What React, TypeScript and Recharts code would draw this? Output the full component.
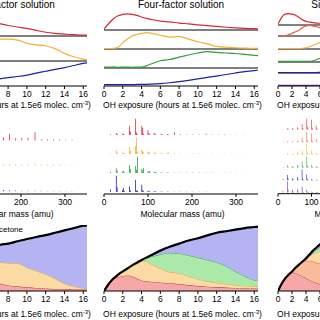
import React from 'react';
import { Area, Bar, BarChart, ComposedChart, Line, LineChart, ReferenceLine, XAxis, YAxis } from 'recharts';

const FONT = '"Liberation Sans", Arial, Helvetica, sans-serif';

// OH exposure grid (hours at 1.5e6 molec cm-3)
const hours = [0, 0.5, 1, 1.5, 2, 2.5, 3, 3.5, 4, 4.5, 5, 6, 7, 8, 9, 10, 11, 12, 13, 14, 15, 16, 16.4];
const hours6 = [0, 0.5, 1, 1.5, 2, 2.5, 3, 3.5, 4, 4.5, 5, 5.5, 6, 7, 8, 10, 12, 14, 16, 18, 20, 22];
const hourTicks = [0, 2, 4, 6, 8, 10, 12, 14, 16];
const hourTicks6 = [0, 2, 4, 6, 8, 10, 12, 14, 16, 18, 20, 22];

// factor time series (normalised)
const red3 = [0.05, 0.35, 0.62, 0.8, 0.9, 0.95, 0.95, 0.92, 0.88, 0.83, 0.78, 0.68, 0.58, 0.48, 0.41, 0.35, 0.26, 0.17, 0.12, 0.09, 0.06, 0.04, 0.04];
const orange3 = [0.02, 0.02, 0.05, 0.15, 0.35, 0.5, 0.65, 0.75, 0.82, 0.86, 0.88, 0.9, 0.92, 0.92, 0.88, 0.74, 0.68, 0.64, 0.52, 0.32, 0.18, 0.08, 0.06];
const blue3 = [0.04, 0.04, 0.04, 0.05, 0.05, 0.06, 0.07, 0.08, 0.1, 0.12, 0.15, 0.22, 0.29, 0.35, 0.4, 0.46, 0.54, 0.62, 0.7, 0.77, 0.86, 0.95, 0.97];

const red4 = [0.05, 0.4, 0.7, 0.88, 0.97, 1.0, 0.97, 0.9, 0.8, 0.72, 0.66, 0.55, 0.5, 0.43, 0.38, 0.32, 0.27, 0.22, 0.17, 0.13, 0.1, 0.08, 0.07];
const orange4 = [0.02, 0.02, 0.03, 0.1, 0.35, 0.55, 0.72, 0.8, 0.86, 0.9, 0.88, 0.76, 0.66, 0.68, 0.55, 0.4, 0.28, 0.15, 0.1, 0.07, 0.05, 0.04, 0.04];
const green4 = [0.05, 0.05, 0.06, 0.04, 0.05, 0.05, 0.04, 0.05, 0.05, 0.12, 0.22, 0.4, 0.47, 0.6, 0.72, 0.83, 0.9, 0.86, 0.83, 0.8, 0.75, 0.7, 0.68];
const blue4 = [0.08, 0.08, 0.08, 0.08, 0.08, 0.08, 0.08, 0.09, 0.1, 0.1, 0.11, 0.14, 0.19, 0.25, 0.33, 0.42, 0.5, 0.58, 0.67, 0.76, 0.84, 0.9, 0.92];

const red6 = [0.08, 0.65, 0.95, 1.0, 0.95, 0.85, 0.65, 0.45, 0.32, 0.25, 0.2, 0.17, 0.15, 0.12, 0.1, 0.08, 0.07, 0.06, 0.05, 0.05, 0.05, 0.05];
const dkorange6 = [0.03, 0.03, 0.05, 0.12, 0.25, 0.4, 0.55, 0.8, 0.95, 1.0, 0.95, 0.88, 0.8, 0.6, 0.45, 0.3, 0.2, 0.15, 0.12, 0.1, 0.08, 0.08];
const yellow6 = [0.04, 0.04, 0.04, 0.04, 0.04, 0.04, 0.04, 0.06, 0.1, 0.18, 0.3, 0.4, 0.5, 0.7, 0.85, 0.9, 0.75, 0.55, 0.4, 0.3, 0.25, 0.2];
const green6 = [0.05, 0.05, 0.05, 0.05, 0.05, 0.05, 0.05, 0.05, 0.05, 0.05, 0.1, 0.2, 0.3, 0.5, 0.7, 0.95, 0.9, 0.75, 0.6, 0.5, 0.4, 0.35];
const blue6 = [0.05, 0.05, 0.05, 0.05, 0.05, 0.05, 0.05, 0.05, 0.05, 0.05, 0.05, 0.05, 0.06, 0.08, 0.12, 0.3, 0.55, 0.8, 0.95, 0.9, 0.8, 0.7];
const purple6 = [0.05, 0.05, 0.05, 0.05, 0.05, 0.05, 0.05, 0.05, 0.05, 0.05, 0.05, 0.05, 0.05, 0.05, 0.06, 0.1, 0.2, 0.35, 0.55, 0.75, 0.9, 1.0];

// factor mass spectra (normalised sticks)
const masses = [15, 28, 30, 42, 44, 46, 58, 60, 72, 74, 76, 86, 88, 90, 100, 102, 104, 114, 116, 118, 130, 132, 144, 146, 160, 174, 188, 202, 216, 232, 246, 260, 274, 288, 302, 316];
const massTicks = [0, 100, 200, 300];
const massTicks6 = [0, 100, 200, 300, 400];

const specRed3 = [0.05, 0.12, 0.06, 0.05, 0.1, 0.04, 0.5, 0.2, 0.9, 0.15, 0.05, 0.6, 0.4, 0.08, 0.35, 0.12, 0.05, 0.15, 0.08, 0.04, 0.1, 0.05, 0.08, 0.04, 0.15, 0.3, 0.1, 0.12, 0.12, 0.38, 0.06, 0.05, 0.04, 0.04, 0.03, 0.03];
const specOrange3 = [0.05, 0.2, 0.1, 0.06, 0.1, 0.05, 0.45, 0.2, 0.55, 0.9, 0.15, 0.3, 0.2, 0.1, 0.12, 0.15, 0.08, 0.08, 0.1, 0.05, 0.06, 0.05, 0.05, 0.1, 0.06, 0.05, 0.05, 0.05, 0.05, 0.05, 0.04, 0.04, 0.04, 0.04, 0.03, 0.02];
const specBlue3 = [0.15, 1.0, 0.3, 0.12, 0.25, 0.08, 0.35, 0.1, 0.75, 0.1, 0.08, 0.45, 0.12, 0.05, 0.08, 0.05, 0.04, 0.05, 0.04, 0.03, 0.04, 0.03, 0.04, 0.03, 0.06, 0.05, 0.04, 0.03, 0.03, 0.03, 0.03, 0.02, 0.02, 0.02, 0.02, 0.02];

const specRed4 = [0.05, 0.12, 0.06, 0.05, 0.1, 0.04, 0.55, 0.2, 1.0, 0.15, 0.05, 0.55, 0.45, 0.08, 0.3, 0.12, 0.05, 0.12, 0.08, 0.04, 0.08, 0.05, 0.06, 0.04, 0.18, 0.05, 0.04, 0.04, 0.04, 0.08, 0.03, 0.03, 0.03, 0.02, 0.02, 0.02];
const specOrange4 = [0.05, 0.22, 0.1, 0.06, 0.1, 0.05, 0.45, 0.2, 0.5, 1.0, 0.15, 0.25, 0.2, 0.1, 0.12, 0.15, 0.08, 0.08, 0.1, 0.05, 0.06, 0.05, 0.05, 0.12, 0.05, 0.04, 0.04, 0.04, 0.03, 0.04, 0.03, 0.03, 0.03, 0.02, 0.02, 0.02];
const specGreen4 = [0.08, 0.3, 0.15, 0.08, 0.15, 0.05, 0.5, 0.25, 0.45, 0.2, 1.0, 0.25, 0.15, 0.3, 0.1, 0.1, 0.12, 0.08, 0.06, 0.06, 0.05, 0.04, 0.04, 0.04, 0.04, 0.03, 0.03, 0.03, 0.03, 0.03, 0.03, 0.02, 0.02, 0.02, 0.02, 0.02];
const specBlue4 = [0.15, 1.0, 0.3, 0.12, 0.25, 0.08, 0.35, 0.1, 0.75, 0.1, 0.08, 0.45, 0.12, 0.05, 0.08, 0.05, 0.04, 0.05, 0.04, 0.03, 0.03, 0.02, 0.02, 0.02, 0.02, 0.02, 0.02, 0.02, 0.02, 0.02, 0.01, 0.01, 0.01, 0.01, 0.01, 0.01];

const specRed6 = [0.04, 0.1, 0.08, 0.04, 0.12, 0.03, 0.2, 0.08, 0.5, 0.1, 0.05, 1.0, 0.25, 0.05, 0.9, 0.15, 0.05, 0.35, 0.1, 0.04, 0.15, 0.05, 0.1, 0.04, 0.08, 0.04, 0.04, 0.04, 0.04, 0.04, 0.03, 0.03, 0.03, 0.03, 0.03, 0.03];
const specDkorange6 = [0.04, 0.1, 0.06, 0.04, 0.1, 0.03, 0.15, 0.08, 0.45, 0.1, 0.05, 1.0, 0.2, 0.05, 0.85, 0.12, 0.04, 0.3, 0.08, 0.03, 0.12, 0.04, 0.08, 0.03, 0.06, 0.03, 0.03, 0.03, 0.03, 0.03, 0.03, 0.03, 0.03, 0.03, 0.03, 0.03];
const specYellow6 = [0.04, 0.12, 0.06, 0.04, 0.1, 0.03, 0.2, 0.08, 0.3, 0.1, 0.06, 1.0, 0.15, 0.05, 0.35, 0.1, 0.04, 0.15, 0.05, 0.03, 0.08, 0.03, 0.05, 0.03, 0.04, 0.03, 0.03, 0.03, 0.03, 0.03, 0.03, 0.03, 0.03, 0.03, 0.03, 0.03];
const specGreen6 = [0.05, 0.2, 0.1, 0.05, 0.12, 0.04, 0.25, 0.1, 0.55, 0.12, 0.06, 1.0, 0.15, 0.05, 0.2, 0.08, 0.04, 0.1, 0.05, 0.03, 0.05, 0.03, 0.04, 0.03, 0.03, 0.03, 0.03, 0.03, 0.03, 0.03, 0.03, 0.03, 0.03, 0.03, 0.03, 0.03];
const specBlue6 = [0.1, 0.5, 0.2, 0.08, 0.2, 0.05, 0.3, 0.1, 1.0, 0.12, 0.05, 0.55, 0.1, 0.04, 0.1, 0.05, 0.03, 0.05, 0.03, 0.03, 0.03, 0.03, 0.03, 0.03, 0.03, 0.03, 0.03, 0.03, 0.03, 0.03, 0.03, 0.03, 0.03, 0.03, 0.03, 0.03];
const specPurple6 = [0.15, 1.0, 0.3, 0.1, 0.25, 0.05, 0.3, 0.1, 0.55, 0.08, 0.04, 0.25, 0.06, 0.03, 0.08, 0.04, 0.03, 0.04, 0.03, 0.03, 0.03, 0.03, 0.03, 0.03, 0.03, 0.03, 0.03, 0.03, 0.03, 0.03, 0.03, 0.03, 0.03, 0.03, 0.03, 0.03];

// factor contributions to SOA (stacked), arbitrary units
const red3a = [0, 0.45, 0.75, 0.9, 0.97, 1.0, 0.95, 0.85, 0.78, 0.72, 0.68, 0.6, 0.5, 0.36, 0.3, 0.24, 0.2, 0.16, 0.13, 0.11, 0.1, 0.09, 0.09];
const orange3a = [0, 0, 0.05, 0.15, 0.29, 0.45, 0.65, 0.85, 0.98, 1.08, 1.14, 1.24, 1.35, 1.44, 1.48, 1.26, 1.1, 0.92, 0.67, 0.37, 0.2, 0.09, 0.07];
const blue3a = [0, 0, 0, 0, 0, 0, 0.05, 0.12, 0.24, 0.35, 0.48, 0.76, 1.1, 1.25, 1.42, 1.85, 2.18, 2.52, 2.95, 3.42, 3.75, 4.02, 4.06];

const red4a = [0, 0.45, 0.75, 0.9, 0.97, 1.0, 0.95, 0.8, 0.68, 0.62, 0.6, 0.55, 0.5, 0.45, 0.38, 0.32, 0.28, 0.25, 0.22, 0.2, 0.18, 0.16, 0.15];
const orange4a = [0, 0, 0.05, 0.15, 0.29, 0.45, 0.7, 1.02, 1.27, 1.26, 1.15, 0.9, 0.72, 0.7, 0.57, 0.46, 0.34, 0.27, 0.23, 0.18, 0.15, 0.14, 0.14];
const green4a = [0, 0, 0, 0, 0, 0, 0, 0, 0.05, 0.22, 0.45, 0.9, 1.23, 1.27, 1.35, 1.37, 1.38, 1.33, 1.15, 0.87, 0.62, 0.4, 0.36];
const blue4a = [0, 0, 0, 0, 0, 0, 0, 0, 0, 0.05, 0.1, 0.25, 0.4, 0.63, 0.95, 1.25, 1.58, 1.9, 2.25, 2.7, 3.1, 3.42, 3.5];

const red6a = [0, 0.45, 0.8, 1.05, 1.2, 1.15, 1.05, 0.95, 0.82, 0.7, 0.6, 0.52, 0.45, 0.35, 0.3, 0.2, 0.16, 0.12, 0.1, 0.09, 0.08, 0.08];
const dkorange6a = [0, 0, 0, 0, 0.05, 0.35, 0.65, 0.9, 1.13, 1.25, 1.3, 1.3, 1.3, 1.15, 1.0, 0.7, 0.44, 0.28, 0.2, 0.16, 0.14, 0.12];
const yellow6a = [0, 0, 0, 0, 0, 0, 0, 0, 0.1, 0.3, 0.5, 0.65, 0.8, 1.1, 1.2, 1.1, 0.8, 0.55, 0.4, 0.32, 0.28, 0.25];
const green6a = [0, 0, 0, 0, 0, 0, 0, 0, 0, 0, 0.1, 0.2, 0.3, 0.5, 0.7, 1.1, 1.3, 1.15, 0.85, 0.6, 0.45, 0.4];
const blue6a = [0, 0, 0, 0, 0, 0, 0, 0, 0, 0, 0, 0, 0, 0.1, 0.15, 0.4, 0.75, 1.1, 1.25, 1.25, 1.2, 1.1];
const purple6a = [0, 0, 0, 0, 0, 0, 0, 0.05, 0.05, 0.1, 0.1, 0.13, 0.15, 0.1, 0.15, 0.3, 0.55, 0.9, 1.35, 1.78, 2.05, 2.27];

const C = { red: '#d62839', dkorange: '#e8643c', orange: '#f2b134', green: '#2e9e3e', blue: '#1f1fa8', purple: '#7b2fb5' };
const F = { red: '#f6a8a8', dkorange: '#f8bc9c', orange: '#fcdaa4', green: '#aae9aa', blue: '#b4b4f2', purple: '#d4b4ee' };
const S = { red: '#c0303a', dkorange: '#d8603a', orange: '#e6a838', green: '#3cae44', blue: '#6a6ad8', purple: '#8a50c0' };

function rows(xKey: string, xs: number[], cols: Record<string, number[]>, withTotal = false) {
  return xs.map((x, i) => {
    const r: any = { [xKey]: x };
    let t = 0;
    Object.keys(cols).forEach((k) => { r[k] = cols[k][i]; t += cols[k][i]; });
    if (withTotal) r.total = t;
    return r;
  });
}

const tick = { fontSize: 8.5, fill: '#000', fontFamily: FONT };
const ML = 6, MR = 3, MT = 2, MB = 2;

function Strip({ x, y, w, h, data, xKey, k, color, xMax, xTicks, bottom, bars }: any) {
  const axisH = bottom ? 14 : 0;
  const Chart: any = bars ? BarChart : LineChart;
  return (
    <div style={{ position: 'absolute', left: x - ML, top: y - MT }}>
      <Chart width={w + ML + MR} height={h + MT + MB + axisH} data={data} margin={{ top: MT, right: MR, bottom: MB, left: ML }}>
        <XAxis dataKey={xKey} type="number" domain={[0, xMax]} ticks={xTicks} allowDataOverflow interval={0}
          hide={!bottom} height={axisH} axisLine={{ stroke: '#000' }} tickLine={{ stroke: '#000' }}
          tick={tick} tickSize={3} />
        <YAxis type="number" domain={bars ? [-0.12, 1.05] : [0, 1.05]} ticks={[0, 0.25, 0.5, 0.75, 1]} allowDataOverflow
          width={0} tick={false} tickSize={3} axisLine={{ stroke: '#000' }} tickLine={{ stroke: '#000' }} />
        {!bars && !bottom && <ReferenceLine y={0} stroke="#000" strokeWidth={1} />}
        {bars
          ? <Bar dataKey={k} fill={color} barSize={1.4} isAnimationActive={false} />
          : <Line type="monotone" dataKey={k} stroke={color} strokeWidth={1.2} dot={false} isAnimationActive={false} />}
      </Chart>
    </div>
  );
}

function StackPanel({ x, y, w, h, data, keys, xMax, xTicks }: any) {
  const axisH = 14;
  return (
    <div style={{ position: 'absolute', left: x - ML, top: y - MT }}>
      <ComposedChart width={w + ML + MR} height={h + MT + MB + axisH} data={data} margin={{ top: MT, right: MR, bottom: MB, left: ML }}>
        <XAxis dataKey="h" type="number" domain={[0, xMax]} ticks={xTicks} allowDataOverflow interval={0}
          height={axisH} axisLine={{ stroke: '#000' }} tickLine={{ stroke: '#000' }} tick={tick} tickSize={3} />
        <YAxis type="number" domain={[0, 4.25]} ticks={[0, 1, 2, 3, 4]} allowDataOverflow
          width={0} tick={false} tickSize={3} axisLine={{ stroke: '#000' }} tickLine={{ stroke: '#000' }} />
        {keys.map((k: string) => (
          <Area key={k} type="monotone" dataKey={k} stackId="s" fill={(F as any)[k]} fillOpacity={1}
            stroke={(S as any)[k]} strokeWidth={1} isAnimationActive={false} />
        ))}
        <Line type="monotone" dataKey="total" stroke="#000" strokeWidth={2.2} dot={false} isAnimationActive={false} />
      </ComposedChart>
    </div>
  );
}

// layout
const COLS = [-67, 104, 278];
const W = 154;

function stripsAt(bounds: number[]) {
  return bounds.slice(0, -1).map((b, i) => ({ y: b, h: bounds[i + 1] - b }));
}

function OHTitle({ cx, y }: { cx: number; y: number }) {
  return (
    <text x={cx} y={y} textAnchor="middle" fontSize={8.5}>
      OH exposure (hours at 1.5e6 molec. cm<tspan dy={-3} fontSize={6}>-3</tspan><tspan dy={3}>)</tspan>
    </text>
  );
}

export default function App() {
  const ts3 = rows('h', hours, { red: red3, orange: orange3, blue: blue3 });
  const ts4 = rows('h', hours, { red: red4, orange: orange4, green: green4, blue: blue4 });
  const ts6 = rows('h', hours6, { red: red6, dkorange: dkorange6, orange: yellow6, green: green6, blue: blue6, purple: purple6 });
  const sp3 = rows('m', masses, { red: specRed3, orange: specOrange3, blue: specBlue3 });
  const sp4 = rows('m', masses, { red: specRed4, orange: specOrange4, green: specGreen4, blue: specBlue4 });
  const sp6 = rows('m', masses, { red: specRed6, dkorange: specDkorange6, orange: specYellow6, green: specGreen6, blue: specBlue6, purple: specPurple6 });
  const st3 = rows('h', hours, { red: red3a, orange: orange3a, blue: blue3a }, true);
  const st4 = rows('h', hours, { red: red4a, orange: orange4a, green: green4a, blue: blue4a }, true);
  const st6 = rows('h', hours6, { red: red6a, dkorange: dkorange6a, orange: yellow6a, green: green6a, blue: blue6a, purple: purple6a }, true);

  const keys3 = ['red', 'orange', 'blue'];
  const keys4 = ['red', 'orange', 'green', 'blue'];
  const keys6 = ['red', 'dkorange', 'orange', 'green', 'blue', 'purple'];

  const topB = [[13, 36, 61, 86], [13, 30, 49, 68, 86], [13, 25, 36, 49, 62, 73, 86]];
  const midB = [[118, 143, 168, 194], [118, 137, 156, 175, 194], [118, 130.7, 143.3, 156, 168.7, 181.3, 194]];
  const tsData = [ts3, ts4, ts6];
  const spData = [sp3, sp4, sp6];
  const stData = [st3, st4, st6];
  const keys = [keys3, keys4, keys6];
  const xMaxes = [16.4, 16.4, 22];
  const xTicks = [hourTicks, hourTicks, hourTicks6];
  const mMaxes = [350, 350, 460];
  const mTicks = [massTicks, massTicks, massTicks6];

  return (
    <div style={{ position: 'absolute', left: 0, top: 0, width: 320, height: 320, overflow: 'hidden', background: '#fff', fontFamily: FONT }}>
      {COLS.map((x0, c) => (
        <React.Fragment key={c}>
          {stripsAt(topB[c]).map((s, i, arr) => (
            <Strip key={'t' + i} x={x0} y={s.y} w={W} h={s.h} data={tsData[c]} xKey="h" k={keys[c][i]}
              color={(C as any)[keys[c][i]]} xMax={xMaxes[c]} xTicks={xTicks[c]} bottom={i === arr.length - 1} />
          ))}
          {stripsAt(midB[c]).map((s, i, arr) => (
            <Strip key={'m' + i} bars x={x0} y={s.y} w={W} h={s.h} data={spData[c]} xKey="m" k={keys[c][i]}
              color={(C as any)[keys[c][i]]} xMax={mMaxes[c]} xTicks={mTicks[c]} bottom={i === arr.length - 1} />
          ))}
          <StackPanel x={x0} y={225} w={W} h={66} data={stData[c]} keys={keys[c]} xMax={xMaxes[c]} xTicks={xTicks[c]} />
        </React.Fragment>
      ))}
      <svg width={320} height={320} style={{ position: 'absolute', left: 0, top: 0, pointerEvents: 'none' }} fontFamily={FONT}>
        <text x={9} y={8} textAnchor="middle" fontSize={10}>Three-factor solution</text>
        <text x={181} y={8} textAnchor="middle" fontSize={10}>Four-factor solution</text>
        <text x={351} y={8} textAnchor="middle" fontSize={10}>Six-factor solution</text>
        {COLS.map((x0, c) => (
          <React.Fragment key={c}>
            <OHTitle cx={x0 + 78.5} y={108} />
            <text x={x0 + 78.5} y={217} textAnchor="middle" fontSize={8.5}>Molecular mass (amu)</text>
            <OHTitle cx={x0 + 78.5} y={317} />
          </React.Fragment>
        ))}
        <text x={23} y={232} textAnchor="end" fontSize={8}>Acetone</text>
      </svg>
    </div>
  );
}
